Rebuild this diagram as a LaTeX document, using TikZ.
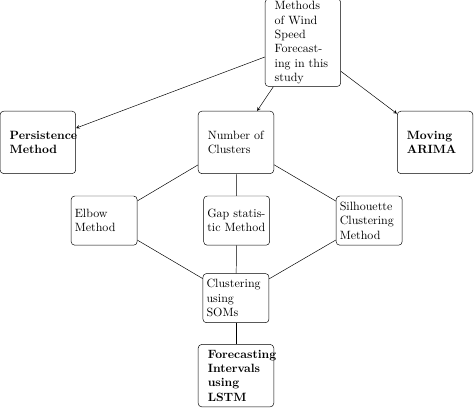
\documentclass[tikz,border=0pt]{standalone}
\usepackage{amsmath}
\usepackage{tikz}
\tikzset{
  bigbox/.style={draw, rounded corners=3pt, text width=47pt, inner xsep=8pt, inner ysep=2pt,
    minimum height=52pt, text ragged, align=left},
  smallbox/.style={draw, rounded corners=3pt, text width=49pt, inner xsep=3pt, inner ysep=2pt,
    minimum height=41pt, text ragged, align=left}
}

\begin{document}
\begin{tikzpicture}[>=stealth, line width=0.4pt]
\useasboundingbox (0,0) rectangle (13.88,11.98);

\node[bigbox] (methods) at (8.87,10.73) {Methods\\of Wind\\Speed\\Forecast-\\ing in this\\study};
\node[bigbox] (persist) at (1.11,7.81) {\textbf{Persistence Method}};
\node[bigbox] (number) at (6.91,7.81) {Number of Clusters};
\node[bigbox] (arima) at (12.74,7.81) {\textbf{Moving ARIMA}};

\node[smallbox] (elbow) at (3.05,5.52) {Elbow Method};
\node[smallbox] (gap) at (6.93,5.52) {Gap statis-\\tic Method};
\node[smallbox] (silh) at (10.81,5.52) {Silhouette Clustering Method};

\node[smallbox] (soms) at (6.91,3.25) {Clustering using SOMs};
\node[bigbox] (lstm) at (6.91,0.98) {\textbf{Forecasting\\Intervals\\using\\LSTM}};

\foreach \t in {persist,number,arima}
  \draw[->] (methods) -- (\t);
\foreach \t in {elbow,gap,silh}
  \draw (number) -- (\t) (\t) -- (soms);
\draw (soms) -- (lstm);
\end{tikzpicture}
\end{document}
